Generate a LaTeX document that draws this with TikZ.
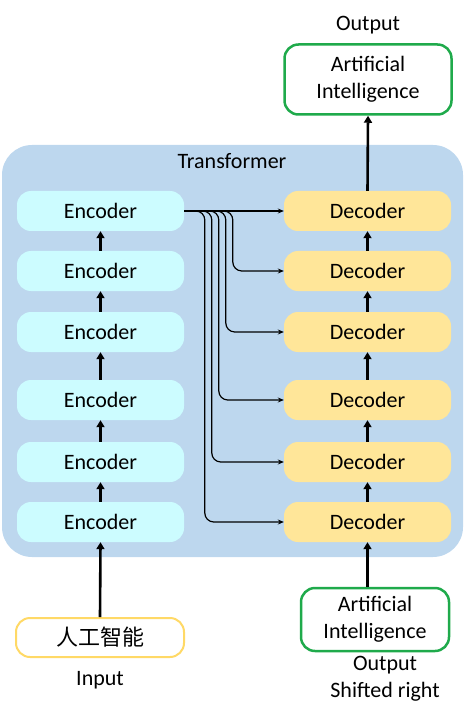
\documentclass[tikz,border=0pt]{standalone}
\usepackage{fontspec}
\setmainfont{Carlito}
\newfontfamily\cjkfont{Noto Sans CJK SC}
\usetikzlibrary{calc, positioning, arrows.meta}

\definecolor{trblue}{HTML}{BDD7EE}
\definecolor{encfill}{HTML}{CCFCFF}
\definecolor{decfill}{HTML}{FFE699}
\definecolor{inborder}{HTML}{FFD966}
\definecolor{outgreen}{HTML}{1FAA4B}

\tikzset{
  container/.style={fill=trblue, rounded corners=30pt, minimum width=461pt, minimum height=412pt},
  enc/.style={fill=encfill, rounded corners=14pt, minimum width=167pt, minimum height=40pt, inner sep=0pt},
  dec/.style={enc, fill=decfill},
  outbox/.style={draw=outgreen, line width=2.5pt, fill=white, rounded corners=14pt, align=center,
    minimum width=167pt, minimum height=70pt, inner sep=0pt},
  inbox/.style={draw=inborder, line width=2pt, fill=white, rounded corners=14pt,
    minimum width=168pt, minimum height=39pt, inner sep=0pt},
  bigarrow/.style={line width=2.6pt, -{Triangle[length=7pt, width=8pt]}},
  link/.style={line width=1.2pt, -{Stealth[length=6pt, width=5pt]}}
}

\begin{document}
\begin{tikzpicture}[x=1pt, y=-1pt, font=\fontsize{22}{27}\selectfont]
  \useasboundingbox (0,0) rectangle (474,708);

  \node[container] (tr) at (232.5,351) {};
  \node (trlbl) at (232,161) {Transformer};

  \foreach \y [count=\i] in {211,271,332,400,462,522} {
    \node[enc] (e\i) at (100.5,\y) {Encoder};
    \node[dec] (d\i) at (367.5,\y) {Decoder};
  }

  \foreach \i/\j in {2/1,3/2,4/3,5/4,6/5} {
    \draw[bigarrow] (e\i.north) -- (e\j.south);
    \draw[bigarrow] (d\i.north) -- (d\j.south);
  }

  % encoder output to every decoder
  \draw[link] (e1.east) -- (d1.west);
  \foreach \i/\dx in {2/51,3/58,4/65,5/72,6/79}
    \draw[link, rounded corners=9pt] (e1.east) -| ([xshift=-\dx pt]d\i.west) -- (d\i.west);

  \node[outbox] (out) at (368,79.5) {Artificial\\Intelligence};
  \node (outlbl) at (368,25) {Output};

  \node[inbox] (in) at (100,637.5) {\cjkfont 人工智能};
  \node (inlbl) at (100,680) {Input};

  \node[outbox, minimum width=148pt, minimum height=63pt] (sr) at (375,619.5) {Artificial\\Intelligence};
  \node[align=center] (srlbl) at (385,679) {Output\\Shifted right};

  \draw[bigarrow] (in.north) -- (e6.south);
  \draw[bigarrow] (sr.north -| d6.south) -- (d6.south);
  \draw[bigarrow] (d1.north) -- (out.south);
\end{tikzpicture}
\end{document}
